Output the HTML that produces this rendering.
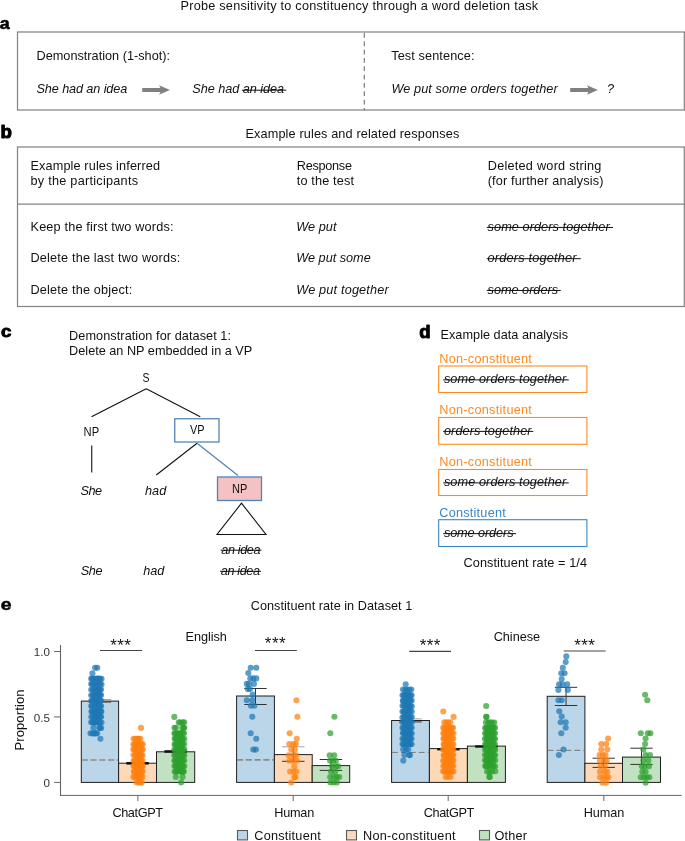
<!DOCTYPE html>
<html><head><meta charset="utf-8"><title>Probe sensitivity to constituency</title>
<style>
html,body{margin:0;padding:0;background:#fff;overflow:hidden;}
svg{display:block;font-family:"Liberation Sans",sans-serif;}
</style></head>
<body>
<svg width="685" height="841" viewBox="0 0 685 841">
<rect width="685" height="841" fill="#fff"/>
<text x="180.50" y="9.95" font-size="12.7" fill="#111" textLength="357.60" lengthAdjust="spacing">Probe sensitivity to constituency through a word deletion task</text>
<text transform="translate(-0.2 28.6) scale(1.05 1)" font-size="17.0" font-weight="bold" fill="#000" stroke="#000" stroke-width="0.6" stroke-linejoin="round">a</text>
<rect x="17.50" y="32.00" width="666.80" height="78.00" fill="none" stroke="#858585" stroke-width="1.25"/>
<line x1="364.30" y1="33.00" x2="364.30" y2="110.00" stroke="#7c7c7c" stroke-width="1.2" stroke-dasharray="4.8 3.53"/>
<text x="36.50" y="59.85" font-size="12.7" fill="#111" textLength="133.50" lengthAdjust="spacing">Demonstration (1-shot):</text>
<text x="36.50" y="93.45" font-size="12.7" font-style="italic" fill="#111" textLength="90.80" lengthAdjust="spacing">She had an idea</text>
<path d="M142.20 88.05 L160.50 88.05 L159.00 85.20 L170.00 90.00 L159.00 94.80 L160.50 91.95 L142.20 91.95 Z" fill="#808080"/>
<text x="192.25" y="93.45" font-size="12.7" font-style="italic" fill="#111" textLength="91.75" lengthAdjust="spacing">She had an idea</text>
<line x1="242.00" y1="90.20" x2="286.30" y2="90.20" stroke="#111" stroke-width="1"/>
<text x="391.20" y="59.95" font-size="12.7" fill="#111" textLength="83.30" lengthAdjust="spacing">Test sentence:</text>
<text x="391.50" y="93.45" font-size="12.7" font-style="italic" fill="#111" textLength="166.20" lengthAdjust="spacing">We put some orders together</text>
<path d="M570.20 88.05 L588.40 88.05 L586.90 85.20 L597.90 90.00 L586.90 94.80 L588.40 91.95 L570.20 91.95 Z" fill="#808080"/>
<text x="607.00" y="93.45" font-size="12.7" font-style="italic" fill="#111">?</text>
<text transform="translate(0.5 137.6) scale(1.07 1)" font-size="17.5" font-weight="bold" fill="#000" stroke="#000" stroke-width="0.95" stroke-linejoin="round">b</text>
<text x="245.50" y="137.95" font-size="12.7" fill="#111" textLength="213.75" lengthAdjust="spacing">Example rules and related responses</text>
<rect x="17.50" y="147.00" width="666.80" height="159.50" fill="none" stroke="#858585" stroke-width="1.25"/>
<line x1="17.50" y1="204.00" x2="684.30" y2="204.00" stroke="#858585" stroke-width="1.25"/>
<text x="30.50" y="169.70" font-size="12.7" fill="#111" textLength="129.50" lengthAdjust="spacing">Example rules inferred</text>
<text x="30.50" y="185.25" font-size="12.7" fill="#111" textLength="107.50" lengthAdjust="spacing">by the participants</text>
<text x="296.75" y="169.70" font-size="12.7" fill="#111" textLength="55.25" lengthAdjust="spacing">Response</text>
<text x="296.75" y="185.25" font-size="12.7" fill="#111" textLength="57.25" lengthAdjust="spacing">to the test</text>
<text x="487.75" y="169.70" font-size="12.7" fill="#111" textLength="113.65" lengthAdjust="spacing">Deleted word string</text>
<text x="487.75" y="185.25" font-size="12.7" fill="#111" textLength="115.65" lengthAdjust="spacing">(for further analysis)</text>
<text x="30.50" y="230.70" font-size="12.7" fill="#111" textLength="143.00" lengthAdjust="spacing">Keep the first two words:</text>
<text x="30.50" y="261.95" font-size="12.7" fill="#111" textLength="149.80" lengthAdjust="spacing">Delete the last two words:</text>
<text x="30.50" y="293.70" font-size="12.7" fill="#111" textLength="101.80" lengthAdjust="spacing">Delete the object:</text>
<text x="296.25" y="230.70" font-size="12.7" font-style="italic" fill="#111" textLength="40.25" lengthAdjust="spacing">We put</text>
<text x="296.25" y="261.95" font-size="12.7" font-style="italic" fill="#111" textLength="74.50" lengthAdjust="spacing">We put some</text>
<text x="296.25" y="293.70" font-size="12.7" font-style="italic" fill="#111" textLength="92.50" lengthAdjust="spacing">We put together</text>
<text x="487.60" y="230.70" font-size="12.7" font-style="italic" fill="#111" textLength="122.10" lengthAdjust="spacing">some orders together</text>
<line x1="486.75" y1="227.45" x2="613.00" y2="227.45" stroke="#111" stroke-width="1"/>
<text x="487.60" y="261.95" font-size="12.7" font-style="italic" fill="#111" textLength="88.90" lengthAdjust="spacing">orders together</text>
<line x1="486.75" y1="258.70" x2="580.75" y2="258.70" stroke="#111" stroke-width="1"/>
<text x="487.60" y="293.70" font-size="12.7" font-style="italic" fill="#111" textLength="70.40" lengthAdjust="spacing">some orders</text>
<line x1="486.75" y1="290.45" x2="560.75" y2="290.45" stroke="#111" stroke-width="1"/>
<text transform="translate(0.9 337.3) scale(1.1 1)" font-size="17" font-weight="bold" fill="#000" stroke="#000" stroke-width="0.95" stroke-linejoin="round">c</text>
<text x="69.10" y="339.65" font-size="12.7" fill="#111" textLength="161.90" lengthAdjust="spacing">Demonstration for dataset 1:</text>
<text x="69.10" y="354.65" font-size="12.7" fill="#111" textLength="183.15" lengthAdjust="spacing">Delete an NP embedded in a VP</text>
<text x="142.60" y="381.75" font-size="12.7" fill="#111" textLength="7.00" lengthAdjust="spacingAndGlyphs">S</text>
<line x1="146.25" y1="388.75" x2="91.50" y2="416.75" stroke="#111" stroke-width="1.1"/>
<line x1="146.25" y1="388.75" x2="200.25" y2="416.75" stroke="#111" stroke-width="1.1"/>
<text x="83.60" y="436.00" font-size="12.7" fill="#111" textLength="15.60" lengthAdjust="spacingAndGlyphs">NP</text>
<line x1="91.75" y1="445.50" x2="91.75" y2="472.50" stroke="#111" stroke-width="1.1"/>
<rect x="174.75" y="418.75" width="44.25" height="23.25" fill="#fff" stroke="#5585b5" stroke-width="1.3"/>
<text x="189.90" y="434.00" font-size="12.7" fill="#111" textLength="14.60" lengthAdjust="spacingAndGlyphs">VP</text>
<line x1="197.00" y1="443.30" x2="156.25" y2="475.00" stroke="#111" stroke-width="1.1"/>
<line x1="197.00" y1="443.30" x2="238.00" y2="475.50" stroke="#5585b5" stroke-width="1.3"/>
<rect x="217.50" y="477.00" width="44.00" height="23.50" fill="#f4c1c4" stroke="#5585b5" stroke-width="1.3"/>
<text x="232.00" y="492.50" font-size="12.7" fill="#111" textLength="15.30" lengthAdjust="spacingAndGlyphs">NP</text>
<path d="M241.5 503.2 L217 534.5 L266 534.5 Z" fill="none" stroke="#111" stroke-width="1.1"/>
<text x="80.50" y="494.95" font-size="12.7" font-style="italic" fill="#111" textLength="21.50" lengthAdjust="spacing">She</text>
<text x="145.00" y="494.95" font-size="12.7" font-style="italic" fill="#111" textLength="21.25" lengthAdjust="spacing">had</text>
<text x="221.30" y="553.70" font-size="12.7" font-style="italic" fill="#111" textLength="39.20" lengthAdjust="spacing">an idea</text>
<line x1="220.75" y1="550.20" x2="261.50" y2="550.20" stroke="#111" stroke-width="1"/>
<text x="80.75" y="574.70" font-size="12.7" font-style="italic" fill="#111" textLength="21.75" lengthAdjust="spacing">She</text>
<text x="143.25" y="574.70" font-size="12.7" font-style="italic" fill="#111" textLength="21.00" lengthAdjust="spacing">had</text>
<text x="220.80" y="574.70" font-size="12.7" font-style="italic" fill="#111" textLength="39.20" lengthAdjust="spacing">an idea</text>
<line x1="220.00" y1="571.30" x2="261.00" y2="571.30" stroke="#111" stroke-width="1"/>
<text transform="translate(419.3 337.75) scale(1.06 1)" font-size="17.5" font-weight="bold" fill="#000" stroke="#000" stroke-width="0.95" stroke-linejoin="round">d</text>
<text x="440.50" y="339.20" font-size="12.7" fill="#111" textLength="127.50" lengthAdjust="spacing">Example data analysis</text>
<text x="439.25" y="362.95" font-size="12.7" fill="#ff8a1f" textLength="92.65" lengthAdjust="spacing">Non-constituent</text>
<rect x="438.70" y="366.00" width="148.20" height="26.50" fill="#fff" stroke="#ff8a1f" stroke-width="1.1"/>
<text x="443.90" y="383.35" font-size="12.7" font-style="italic" fill="#111" textLength="122.35" lengthAdjust="spacing">some orders together</text>
<line x1="443.20" y1="379.90" x2="568.75" y2="379.90" stroke="#111" stroke-width="1"/>
<text x="439.25" y="414.20" font-size="12.7" fill="#ff8a1f" textLength="92.65" lengthAdjust="spacing">Non-constituent</text>
<rect x="438.70" y="417.50" width="148.20" height="26.75" fill="#fff" stroke="#ff8a1f" stroke-width="1.1"/>
<text x="443.90" y="434.85" font-size="12.7" font-style="italic" fill="#111" textLength="87.70" lengthAdjust="spacing">orders together</text>
<line x1="443.20" y1="431.40" x2="533.30" y2="431.40" stroke="#111" stroke-width="1"/>
<text x="439.25" y="465.70" font-size="12.7" fill="#ff8a1f" textLength="92.65" lengthAdjust="spacing">Non-constituent</text>
<rect x="438.70" y="469.50" width="148.20" height="26.00" fill="#fff" stroke="#ff8a1f" stroke-width="1.1"/>
<text x="443.90" y="486.35" font-size="12.7" font-style="italic" fill="#111" textLength="122.35" lengthAdjust="spacing">some orders together</text>
<line x1="443.20" y1="482.90" x2="568.75" y2="482.90" stroke="#111" stroke-width="1"/>
<text x="439.25" y="516.95" font-size="12.7" fill="#3a87c8" textLength="66.50" lengthAdjust="spacing">Constituent</text>
<rect x="438.70" y="519.70" width="148.20" height="26.80" fill="#fff" stroke="#3a87c8" stroke-width="1.1"/>
<text x="443.90" y="537.10" font-size="12.7" font-style="italic" fill="#111" textLength="69.60" lengthAdjust="spacing">some orders</text>
<line x1="443.20" y1="533.65" x2="516.00" y2="533.65" stroke="#111" stroke-width="1"/>
<text x="463.50" y="566.70" font-size="12.7" fill="#111" textLength="123.50" lengthAdjust="spacing">Constituent rate = 1/4</text>
<text transform="translate(0.8 609.75) scale(1.18 1)" font-size="16.5" font-weight="bold" fill="#000" stroke="#000" stroke-width="0.5" stroke-linejoin="round">e</text>
<text x="250.75" y="609.95" font-size="12.7" fill="#111" textLength="161.50" lengthAdjust="spacing">Constituent rate in Dataset 1</text>
<text x="185.50" y="640.70" font-size="12.7" fill="#111" textLength="41.25" lengthAdjust="spacing">English</text>
<text x="493.75" y="640.70" font-size="12.7" fill="#111" textLength="46.25" lengthAdjust="spacing">Chinese</text>
<rect x="81.30" y="701.10" width="37.30" height="81.30" fill="#bcd6e9" stroke="#1f1f1f" stroke-width="1"/>
<rect x="118.60" y="763.20" width="37.90" height="19.20" fill="#fdd9b7" stroke="#1f1f1f" stroke-width="1"/>
<rect x="156.50" y="751.80" width="38.20" height="30.60" fill="#c0e2c0" stroke="#1f1f1f" stroke-width="1"/>
<line x1="81.70" y1="760.00" x2="118.00" y2="760.00" stroke="#8c8c8c" stroke-width="1.7" stroke-dasharray="6.2 2.55"/>
<line x1="88.75" y1="699.50" x2="111.15" y2="699.50" stroke="#a5a5a5" stroke-width="1.0"/>
<line x1="88.75" y1="702.00" x2="111.15" y2="702.00" stroke="#333" stroke-width="1.0"/>
<line x1="99.95" y1="699.50" x2="99.95" y2="702.00" stroke="#333" stroke-width="1.0"/>
<rect x="126.35" y="762.00" width="22.40" height="2.60" fill="#111"/>
<rect x="164.40" y="750.20" width="22.40" height="2.60" fill="#111"/>
<g fill="#1f77b4" fill-opacity="0.72">
<circle cx="92.3" cy="711.5" r="3.05"/><circle cx="97.7" cy="711.7" r="3.05"/><circle cx="91.2" cy="684.1" r="3.05"/><circle cx="99.0" cy="678.5" r="3.05"/><circle cx="101.1" cy="689.5" r="3.05"/><circle cx="94.6" cy="722.4" r="3.05"/><circle cx="98.7" cy="695.1" r="3.05"/><circle cx="98.7" cy="684.1" r="3.05"/><circle cx="90.5" cy="733.2" r="3.05"/><circle cx="95.4" cy="711.6" r="3.05"/><circle cx="91.3" cy="700.8" r="3.05"/><circle cx="100.2" cy="706.1" r="3.05"/><circle cx="93.8" cy="722.3" r="3.05"/><circle cx="93.6" cy="678.7" r="3.05"/><circle cx="91.2" cy="678.8" r="3.05"/><circle cx="93.7" cy="711.4" r="3.05"/><circle cx="97.3" cy="717.0" r="3.05"/><circle cx="93.3" cy="684.1" r="3.05"/><circle cx="96.5" cy="706.1" r="3.05"/><circle cx="95.9" cy="722.4" r="3.05"/><circle cx="97.7" cy="706.0" r="3.05"/><circle cx="101.1" cy="716.8" r="3.05"/><circle cx="96.7" cy="689.8" r="3.05"/><circle cx="93.8" cy="689.7" r="3.05"/><circle cx="91.4" cy="711.5" r="3.05"/><circle cx="100.4" cy="738.8" r="3.05"/><circle cx="99.8" cy="722.3" r="3.05"/><circle cx="100.3" cy="716.7" r="3.05"/><circle cx="100.2" cy="679.0" r="3.05"/><circle cx="100.3" cy="695.0" r="3.05"/><circle cx="92.3" cy="684.0" r="3.05"/><circle cx="94.9" cy="695.3" r="3.05"/><circle cx="101.2" cy="728.0" r="3.05"/><circle cx="94.7" cy="716.8" r="3.05"/><circle cx="91.2" cy="706.0" r="3.05"/><circle cx="96.0" cy="700.4" r="3.05"/><circle cx="92.4" cy="673.3" r="3.05"/><circle cx="98.8" cy="722.6" r="3.05"/><circle cx="95.9" cy="679.0" r="3.05"/><circle cx="91.2" cy="689.7" r="3.05"/><circle cx="95.9" cy="684.4" r="3.05"/><circle cx="91.2" cy="695.3" r="3.05"/><circle cx="101.1" cy="706.1" r="3.05"/><circle cx="101.5" cy="684.5" r="3.05"/><circle cx="97.8" cy="684.0" r="3.05"/><circle cx="94.7" cy="684.2" r="3.05"/><circle cx="95.4" cy="705.9" r="3.05"/><circle cx="93.7" cy="700.7" r="3.05"/><circle cx="94.6" cy="700.6" r="3.05"/><circle cx="101.0" cy="695.1" r="3.05"/><circle cx="97.2" cy="700.7" r="3.05"/><circle cx="100.1" cy="728.0" r="3.05"/><circle cx="92.8" cy="700.5" r="3.05"/><circle cx="91.3" cy="716.9" r="3.05"/><circle cx="92.6" cy="722.2" r="3.05"/><circle cx="101.5" cy="722.6" r="3.05"/><circle cx="93.4" cy="727.9" r="3.05"/><circle cx="92.1" cy="678.6" r="3.05"/><circle cx="94.2" cy="733.4" r="3.05"/><circle cx="97.2" cy="722.2" r="3.05"/><circle cx="99.2" cy="727.8" r="3.05"/><circle cx="93.6" cy="695.1" r="3.05"/><circle cx="100.1" cy="684.0" r="3.05"/><circle cx="98.0" cy="689.8" r="3.05"/><circle cx="97.3" cy="695.0" r="3.05"/><circle cx="94.1" cy="716.8" r="3.05"/><circle cx="98.6" cy="700.5" r="3.05"/><circle cx="92.9" cy="689.8" r="3.05"/><circle cx="96.1" cy="711.5" r="3.05"/><circle cx="95.4" cy="678.6" r="3.05"/><circle cx="101.5" cy="678.9" r="3.05"/><circle cx="96.8" cy="695.0" r="3.05"/><circle cx="99.1" cy="716.9" r="3.05"/><circle cx="92.5" cy="733.5" r="3.05"/><circle cx="95.9" cy="733.4" r="3.05"/><circle cx="97.3" cy="667.8" r="3.05"/><circle cx="91.2" cy="722.2" r="3.05"/><circle cx="99.8" cy="689.7" r="3.05"/><circle cx="101.4" cy="711.6" r="3.05"/><circle cx="100.1" cy="700.8" r="3.05"/><circle cx="100.7" cy="711.3" r="3.05"/><circle cx="98.8" cy="689.6" r="3.05"/><circle cx="94.0" cy="706.1" r="3.05"/><circle cx="96.2" cy="717.1" r="3.05"/><circle cx="92.0" cy="706.1" r="3.05"/><circle cx="93.0" cy="716.7" r="3.05"/><circle cx="92.8" cy="695.3" r="3.05"/><circle cx="95.1" cy="667.7" r="3.05"/><circle cx="95.2" cy="689.5" r="3.05"/><circle cx="101.1" cy="700.6" r="3.05"/><circle cx="97.7" cy="678.6" r="3.05"/><circle cx="97.2" cy="733.3" r="3.05"/><circle cx="99.2" cy="711.4" r="3.05"/><circle cx="99.3" cy="706.3" r="3.05"/>
</g>
<g fill="#ff7f0e" fill-opacity="0.72">
<circle cx="136.9" cy="777.1" r="3.05"/><circle cx="142.4" cy="776.9" r="3.05"/><circle cx="138.5" cy="755.1" r="3.05"/><circle cx="138.4" cy="744.5" r="3.05"/><circle cx="136.4" cy="782.3" r="3.05"/><circle cx="135.9" cy="749.5" r="3.05"/><circle cx="138.7" cy="738.7" r="3.05"/><circle cx="140.0" cy="776.9" r="3.05"/><circle cx="142.8" cy="765.9" r="3.05"/><circle cx="139.7" cy="771.7" r="3.05"/><circle cx="137.6" cy="749.9" r="3.05"/><circle cx="141.4" cy="755.3" r="3.05"/><circle cx="134.2" cy="749.6" r="3.05"/><circle cx="141.0" cy="727.9" r="3.05"/><circle cx="142.5" cy="755.3" r="3.05"/><circle cx="140.4" cy="738.9" r="3.05"/><circle cx="140.5" cy="744.5" r="3.05"/><circle cx="133.6" cy="760.8" r="3.05"/><circle cx="138.5" cy="776.7" r="3.05"/><circle cx="140.2" cy="760.8" r="3.05"/><circle cx="142.7" cy="744.3" r="3.05"/><circle cx="139.2" cy="749.9" r="3.05"/><circle cx="140.0" cy="782.2" r="3.05"/><circle cx="141.8" cy="749.9" r="3.05"/><circle cx="142.0" cy="765.9" r="3.05"/><circle cx="137.3" cy="738.7" r="3.05"/><circle cx="142.8" cy="749.6" r="3.05"/><circle cx="139.3" cy="755.1" r="3.05"/><circle cx="134.2" cy="776.7" r="3.05"/><circle cx="133.6" cy="766.0" r="3.05"/><circle cx="136.0" cy="755.3" r="3.05"/><circle cx="133.9" cy="771.5" r="3.05"/><circle cx="141.2" cy="760.8" r="3.05"/><circle cx="135.5" cy="744.2" r="3.05"/><circle cx="140.4" cy="755.0" r="3.05"/><circle cx="133.4" cy="749.4" r="3.05"/><circle cx="137.3" cy="755.2" r="3.05"/><circle cx="140.6" cy="749.4" r="3.05"/><circle cx="136.9" cy="771.4" r="3.05"/><circle cx="139.2" cy="760.6" r="3.05"/><circle cx="138.8" cy="744.0" r="3.05"/><circle cx="136.8" cy="760.5" r="3.05"/><circle cx="133.6" cy="738.8" r="3.05"/><circle cx="140.7" cy="765.8" r="3.05"/><circle cx="133.4" cy="744.4" r="3.05"/><circle cx="137.1" cy="744.1" r="3.05"/><circle cx="141.6" cy="744.1" r="3.05"/><circle cx="138.0" cy="765.9" r="3.05"/><circle cx="138.1" cy="771.7" r="3.05"/><circle cx="134.3" cy="765.9" r="3.05"/><circle cx="135.9" cy="777.0" r="3.05"/><circle cx="140.8" cy="771.3" r="3.05"/><circle cx="141.7" cy="782.6" r="3.05"/><circle cx="142.5" cy="760.8" r="3.05"/><circle cx="137.4" cy="766.1" r="3.05"/><circle cx="138.9" cy="766.0" r="3.05"/><circle cx="141.6" cy="771.4" r="3.05"/><circle cx="133.4" cy="777.0" r="3.05"/><circle cx="134.5" cy="760.5" r="3.05"/><circle cx="142.7" cy="771.4" r="3.05"/><circle cx="138.4" cy="782.6" r="3.05"/><circle cx="135.8" cy="771.6" r="3.05"/><circle cx="135.6" cy="760.4" r="3.05"/><circle cx="139.0" cy="776.7" r="3.05"/><circle cx="135.0" cy="755.0" r="3.05"/><circle cx="138.1" cy="760.7" r="3.05"/><circle cx="133.4" cy="755.0" r="3.05"/><circle cx="135.3" cy="738.9" r="3.05"/><circle cx="136.7" cy="749.5" r="3.05"/><circle cx="134.3" cy="771.4" r="3.05"/><circle cx="141.2" cy="777.1" r="3.05"/><circle cx="135.4" cy="766.2" r="3.05"/><circle cx="134.7" cy="744.2" r="3.05"/>
</g>
<g fill="#2ca02c" fill-opacity="0.72">
<circle cx="182.9" cy="733.1" r="3.05"/><circle cx="183.6" cy="728.0" r="3.05"/><circle cx="184.3" cy="749.4" r="3.05"/><circle cx="176.0" cy="727.8" r="3.05"/><circle cx="175.1" cy="760.4" r="3.05"/><circle cx="177.9" cy="760.6" r="3.05"/><circle cx="175.6" cy="766.1" r="3.05"/><circle cx="180.6" cy="744.2" r="3.05"/><circle cx="177.0" cy="749.5" r="3.05"/><circle cx="177.8" cy="765.8" r="3.05"/><circle cx="182.0" cy="760.7" r="3.05"/><circle cx="184.3" cy="744.1" r="3.05"/><circle cx="184.3" cy="766.2" r="3.05"/><circle cx="184.3" cy="727.8" r="3.05"/><circle cx="182.5" cy="776.9" r="3.05"/><circle cx="177.0" cy="744.4" r="3.05"/><circle cx="181.6" cy="733.3" r="3.05"/><circle cx="182.6" cy="738.9" r="3.05"/><circle cx="177.6" cy="771.3" r="3.05"/><circle cx="179.1" cy="766.2" r="3.05"/><circle cx="180.3" cy="760.7" r="3.05"/><circle cx="182.8" cy="722.4" r="3.05"/><circle cx="180.3" cy="755.0" r="3.05"/><circle cx="176.5" cy="738.7" r="3.05"/><circle cx="184.3" cy="738.9" r="3.05"/><circle cx="182.3" cy="727.9" r="3.05"/><circle cx="178.8" cy="760.4" r="3.05"/><circle cx="176.6" cy="760.7" r="3.05"/><circle cx="181.0" cy="739.0" r="3.05"/><circle cx="174.3" cy="749.8" r="3.05"/><circle cx="174.4" cy="760.7" r="3.05"/><circle cx="180.5" cy="749.7" r="3.05"/><circle cx="179.6" cy="738.8" r="3.05"/><circle cx="178.8" cy="722.4" r="3.05"/><circle cx="176.4" cy="733.3" r="3.05"/><circle cx="180.9" cy="771.5" r="3.05"/><circle cx="181.8" cy="738.9" r="3.05"/><circle cx="181.6" cy="749.5" r="3.05"/><circle cx="184.2" cy="722.3" r="3.05"/><circle cx="178.8" cy="749.4" r="3.05"/><circle cx="174.5" cy="766.0" r="3.05"/><circle cx="180.3" cy="766.2" r="3.05"/><circle cx="181.9" cy="771.6" r="3.05"/><circle cx="182.3" cy="766.0" r="3.05"/><circle cx="175.2" cy="755.4" r="3.05"/><circle cx="177.2" cy="754.9" r="3.05"/><circle cx="182.2" cy="755.0" r="3.05"/><circle cx="182.8" cy="760.6" r="3.05"/><circle cx="179.2" cy="771.3" r="3.05"/><circle cx="174.6" cy="771.5" r="3.05"/><circle cx="180.3" cy="733.4" r="3.05"/><circle cx="175.6" cy="749.9" r="3.05"/><circle cx="178.0" cy="755.3" r="3.05"/><circle cx="177.9" cy="733.2" r="3.05"/><circle cx="175.8" cy="776.9" r="3.05"/><circle cx="174.6" cy="744.4" r="3.05"/><circle cx="184.0" cy="733.2" r="3.05"/><circle cx="177.0" cy="771.4" r="3.05"/><circle cx="183.8" cy="771.6" r="3.05"/><circle cx="175.9" cy="771.6" r="3.05"/><circle cx="174.4" cy="727.8" r="3.05"/><circle cx="182.6" cy="744.0" r="3.05"/><circle cx="174.7" cy="738.6" r="3.05"/><circle cx="178.4" cy="749.7" r="3.05"/><circle cx="175.3" cy="738.8" r="3.05"/><circle cx="178.5" cy="739.0" r="3.05"/><circle cx="181.7" cy="744.1" r="3.05"/><circle cx="179.2" cy="744.5" r="3.05"/><circle cx="179.8" cy="755.1" r="3.05"/><circle cx="174.3" cy="716.9" r="3.05"/><circle cx="176.4" cy="766.2" r="3.05"/><circle cx="174.3" cy="755.3" r="3.05"/><circle cx="181.1" cy="782.4" r="3.05"/><circle cx="175.1" cy="733.5" r="3.05"/><circle cx="182.9" cy="766.0" r="3.05"/><circle cx="175.2" cy="744.4" r="3.05"/><circle cx="180.4" cy="722.6" r="3.05"/><circle cx="184.3" cy="755.4" r="3.05"/><circle cx="174.4" cy="733.2" r="3.05"/><circle cx="183.2" cy="771.5" r="3.05"/><circle cx="182.9" cy="749.6" r="3.05"/><circle cx="183.1" cy="755.0" r="3.05"/><circle cx="177.8" cy="744.2" r="3.05"/><circle cx="184.3" cy="760.6" r="3.05"/><circle cx="179.5" cy="733.6" r="3.05"/>
</g>
<rect x="236.60" y="696.00" width="37.80" height="86.40" fill="#bcd6e9" stroke="#1f1f1f" stroke-width="1"/>
<rect x="274.40" y="754.60" width="37.80" height="27.80" fill="#fdd9b7" stroke="#1f1f1f" stroke-width="1"/>
<rect x="312.20" y="765.60" width="37.50" height="16.80" fill="#c0e2c0" stroke="#1f1f1f" stroke-width="1"/>
<line x1="237.00" y1="759.90" x2="273.80" y2="759.90" stroke="#8c8c8c" stroke-width="1.7" stroke-dasharray="6.2 2.55"/>
<line x1="244.30" y1="688.50" x2="266.70" y2="688.50" stroke="#333" stroke-width="1.0"/>
<line x1="244.30" y1="704.50" x2="266.70" y2="704.50" stroke="#333" stroke-width="1.0"/>
<line x1="255.50" y1="688.50" x2="255.50" y2="704.50" stroke="#333" stroke-width="1.0"/>
<line x1="282.10" y1="746.80" x2="304.50" y2="746.80" stroke="#a5a5a5" stroke-width="1.0"/>
<line x1="282.10" y1="761.30" x2="304.50" y2="761.30" stroke="#333" stroke-width="1.0"/>
<line x1="293.30" y1="746.80" x2="293.30" y2="761.30" stroke="#333" stroke-width="1.0"/>
<line x1="319.75" y1="759.50" x2="342.15" y2="759.50" stroke="#333" stroke-width="1.0"/>
<line x1="319.75" y1="770.40" x2="342.15" y2="770.40" stroke="#333" stroke-width="1.0"/>
<line x1="330.95" y1="759.50" x2="330.95" y2="770.40" stroke="#333" stroke-width="1.0"/>
<g fill="#1f77b4" fill-opacity="0.72">
<circle cx="250.7" cy="667.7" r="3.05"/><circle cx="256.3" cy="667.7" r="3.05"/><circle cx="248.3" cy="673.0" r="3.05"/><circle cx="250.3" cy="678.4" r="3.05"/><circle cx="253.3" cy="678.4" r="3.05"/><circle cx="256.3" cy="678.4" r="3.05"/><circle cx="246.8" cy="683.9" r="3.05"/><circle cx="248.9" cy="683.9" r="3.05"/><circle cx="253.9" cy="683.9" r="3.05"/><circle cx="247.8" cy="689.1" r="3.05"/><circle cx="249.9" cy="689.1" r="3.05"/><circle cx="252.7" cy="694.6" r="3.05"/><circle cx="246.8" cy="700.3" r="3.05"/><circle cx="252.3" cy="700.3" r="3.05"/><circle cx="250.9" cy="705.7" r="3.05"/><circle cx="254.3" cy="705.7" r="3.05"/><circle cx="252.3" cy="716.8" r="3.05"/><circle cx="250.7" cy="733.2" r="3.05"/><circle cx="256.3" cy="738.7" r="3.05"/><circle cx="253.3" cy="749.6" r="3.05"/><circle cx="255.9" cy="749.6" r="3.05"/>
</g>
<g fill="#ff7f0e" fill-opacity="0.72">
<circle cx="296.4" cy="700.3" r="3.05"/><circle cx="297.4" cy="716.8" r="3.05"/><circle cx="289.7" cy="733.2" r="3.05"/><circle cx="296.8" cy="738.7" r="3.05"/><circle cx="289.3" cy="744.1" r="3.05"/><circle cx="293.3" cy="744.1" r="3.05"/><circle cx="295.8" cy="744.1" r="3.05"/><circle cx="291.3" cy="749.6" r="3.05"/><circle cx="294.8" cy="749.6" r="3.05"/><circle cx="288.7" cy="755.2" r="3.05"/><circle cx="293.7" cy="755.2" r="3.05"/><circle cx="296.2" cy="755.2" r="3.05"/><circle cx="289.3" cy="760.7" r="3.05"/><circle cx="292.7" cy="760.7" r="3.05"/><circle cx="296.8" cy="760.7" r="3.05"/><circle cx="294.3" cy="766.2" r="3.05"/><circle cx="290.1" cy="771.6" r="3.05"/><circle cx="293.7" cy="771.6" r="3.05"/><circle cx="296.4" cy="771.6" r="3.05"/><circle cx="295.4" cy="777.1" r="3.05"/><circle cx="291.3" cy="782.5" r="3.05"/><circle cx="294.3" cy="777.1" r="3.05"/>
</g>
<g fill="#2ca02c" fill-opacity="0.72">
<circle cx="334.4" cy="716.8" r="3.05"/><circle cx="330.3" cy="733.2" r="3.05"/><circle cx="329.7" cy="755.2" r="3.05"/><circle cx="334.2" cy="755.2" r="3.05"/><circle cx="330.1" cy="760.7" r="3.05"/><circle cx="333.2" cy="760.7" r="3.05"/><circle cx="335.8" cy="760.7" r="3.05"/><circle cx="332.2" cy="766.2" r="3.05"/><circle cx="335.8" cy="766.2" r="3.05"/><circle cx="338.2" cy="766.2" r="3.05"/><circle cx="331.1" cy="771.6" r="3.05"/><circle cx="335.2" cy="771.6" r="3.05"/><circle cx="330.1" cy="777.1" r="3.05"/><circle cx="333.8" cy="777.1" r="3.05"/><circle cx="336.6" cy="777.1" r="3.05"/><circle cx="339.2" cy="777.1" r="3.05"/><circle cx="330.5" cy="782.5" r="3.05"/><circle cx="333.8" cy="782.5" r="3.05"/><circle cx="336.8" cy="782.5" r="3.05"/>
</g>
<rect x="391.60" y="720.50" width="37.80" height="61.90" fill="#bcd6e9" stroke="#1f1f1f" stroke-width="1"/>
<rect x="429.40" y="748.60" width="38.00" height="33.80" fill="#fdd9b7" stroke="#1f1f1f" stroke-width="1"/>
<rect x="467.40" y="746.10" width="38.00" height="36.30" fill="#c0e2c0" stroke="#1f1f1f" stroke-width="1"/>
<line x1="392.10" y1="752.40" x2="428.80" y2="752.40" stroke="#7a7774" stroke-width="1.0" stroke-dasharray="5.8 3.1"/>
<line x1="399.30" y1="718.90" x2="421.70" y2="718.90" stroke="#a5a5a5" stroke-width="1.0"/>
<line x1="399.30" y1="721.90" x2="421.70" y2="721.90" stroke="#333" stroke-width="1.0"/>
<line x1="410.50" y1="718.90" x2="410.50" y2="721.90" stroke="#333" stroke-width="1.0"/>
<rect x="437.20" y="748.00" width="22.40" height="2.40" fill="#111"/>
<rect x="475.20" y="745.30" width="22.40" height="2.40" fill="#111"/>
<g fill="#1f77b4" fill-opacity="0.72">
<circle cx="410.2" cy="738.6" r="3.05"/><circle cx="404.4" cy="755.1" r="3.05"/><circle cx="408.2" cy="749.5" r="3.05"/><circle cx="406.4" cy="705.9" r="3.05"/><circle cx="408.5" cy="738.7" r="3.05"/><circle cx="408.0" cy="700.4" r="3.05"/><circle cx="409.1" cy="727.8" r="3.05"/><circle cx="403.6" cy="711.7" r="3.05"/><circle cx="411.7" cy="711.4" r="3.05"/><circle cx="411.7" cy="700.6" r="3.05"/><circle cx="409.0" cy="722.6" r="3.05"/><circle cx="404.7" cy="722.6" r="3.05"/><circle cx="403.5" cy="727.8" r="3.05"/><circle cx="411.6" cy="738.8" r="3.05"/><circle cx="404.4" cy="695.1" r="3.05"/><circle cx="407.4" cy="722.5" r="3.05"/><circle cx="405.5" cy="727.7" r="3.05"/><circle cx="404.5" cy="711.6" r="3.05"/><circle cx="405.5" cy="733.1" r="3.05"/><circle cx="407.0" cy="728.1" r="3.05"/><circle cx="411.3" cy="689.5" r="3.05"/><circle cx="403.4" cy="744.5" r="3.05"/><circle cx="409.4" cy="689.6" r="3.05"/><circle cx="411.7" cy="722.3" r="3.05"/><circle cx="402.8" cy="700.7" r="3.05"/><circle cx="409.9" cy="733.5" r="3.05"/><circle cx="409.9" cy="738.8" r="3.05"/><circle cx="409.1" cy="695.4" r="3.05"/><circle cx="407.5" cy="694.9" r="3.05"/><circle cx="406.7" cy="705.8" r="3.05"/><circle cx="407.4" cy="717.2" r="3.05"/><circle cx="404.1" cy="722.3" r="3.05"/><circle cx="411.7" cy="706.2" r="3.05"/><circle cx="402.9" cy="733.1" r="3.05"/><circle cx="407.0" cy="733.5" r="3.05"/><circle cx="410.3" cy="722.5" r="3.05"/><circle cx="405.7" cy="716.7" r="3.05"/><circle cx="407.9" cy="728.1" r="3.05"/><circle cx="403.7" cy="706.0" r="3.05"/><circle cx="407.0" cy="689.7" r="3.05"/><circle cx="403.8" cy="695.4" r="3.05"/><circle cx="402.5" cy="711.5" r="3.05"/><circle cx="403.3" cy="760.6" r="3.05"/><circle cx="403.2" cy="749.6" r="3.05"/><circle cx="411.6" cy="727.6" r="3.05"/><circle cx="405.5" cy="744.2" r="3.05"/><circle cx="403.0" cy="689.6" r="3.05"/><circle cx="411.6" cy="695.3" r="3.05"/><circle cx="407.4" cy="711.5" r="3.05"/><circle cx="404.6" cy="727.7" r="3.05"/><circle cx="405.7" cy="684.2" r="3.05"/><circle cx="405.8" cy="700.7" r="3.05"/><circle cx="405.3" cy="706.2" r="3.05"/><circle cx="408.0" cy="744.3" r="3.05"/><circle cx="406.8" cy="700.5" r="3.05"/><circle cx="410.1" cy="744.1" r="3.05"/><circle cx="408.1" cy="711.4" r="3.05"/><circle cx="403.9" cy="738.8" r="3.05"/><circle cx="406.2" cy="711.7" r="3.05"/><circle cx="402.5" cy="727.9" r="3.05"/><circle cx="402.5" cy="744.1" r="3.05"/><circle cx="409.3" cy="711.6" r="3.05"/><circle cx="406.8" cy="738.6" r="3.05"/><circle cx="408.9" cy="716.8" r="3.05"/><circle cx="409.8" cy="700.6" r="3.05"/><circle cx="410.4" cy="733.2" r="3.05"/><circle cx="403.8" cy="716.8" r="3.05"/><circle cx="405.0" cy="744.1" r="3.05"/><circle cx="409.3" cy="705.9" r="3.05"/><circle cx="403.3" cy="700.8" r="3.05"/><circle cx="402.5" cy="717.2" r="3.05"/><circle cx="404.6" cy="700.6" r="3.05"/><circle cx="409.8" cy="744.1" r="3.05"/><circle cx="411.7" cy="716.9" r="3.05"/><circle cx="406.0" cy="749.7" r="3.05"/><circle cx="402.5" cy="722.3" r="3.05"/><circle cx="410.6" cy="695.3" r="3.05"/><circle cx="410.9" cy="728.0" r="3.05"/><circle cx="409.8" cy="755.1" r="3.05"/><circle cx="405.3" cy="733.1" r="3.05"/><circle cx="404.5" cy="739.0" r="3.05"/><circle cx="408.2" cy="706.1" r="3.05"/><circle cx="402.5" cy="695.3" r="3.05"/><circle cx="403.5" cy="733.2" r="3.05"/><circle cx="405.3" cy="689.9" r="3.05"/><circle cx="406.3" cy="695.3" r="3.05"/><circle cx="408.4" cy="717.2" r="3.05"/><circle cx="405.8" cy="738.9" r="3.05"/><circle cx="409.4" cy="755.1" r="3.05"/><circle cx="411.6" cy="744.3" r="3.05"/><circle cx="410.1" cy="711.3" r="3.05"/><circle cx="410.5" cy="706.1" r="3.05"/><circle cx="402.5" cy="705.8" r="3.05"/><circle cx="407.3" cy="744.2" r="3.05"/><circle cx="411.7" cy="733.4" r="3.05"/><circle cx="402.5" cy="738.9" r="3.05"/><circle cx="405.5" cy="722.4" r="3.05"/><circle cx="410.4" cy="700.5" r="3.05"/><circle cx="408.6" cy="733.4" r="3.05"/><circle cx="405.0" cy="716.9" r="3.05"/><circle cx="408.0" cy="694.9" r="3.05"/><circle cx="410.5" cy="717.2" r="3.05"/><circle cx="407.8" cy="722.2" r="3.05"/>
</g>
<g fill="#ff7f0e" fill-opacity="0.72">
<circle cx="449.6" cy="749.7" r="3.05"/><circle cx="452.1" cy="765.8" r="3.05"/><circle cx="451.9" cy="771.5" r="3.05"/><circle cx="448.1" cy="776.7" r="3.05"/><circle cx="450.4" cy="744.4" r="3.05"/><circle cx="448.6" cy="744.2" r="3.05"/><circle cx="445.4" cy="738.8" r="3.05"/><circle cx="449.3" cy="744.3" r="3.05"/><circle cx="451.9" cy="744.3" r="3.05"/><circle cx="448.3" cy="727.8" r="3.05"/><circle cx="453.3" cy="766.0" r="3.05"/><circle cx="448.7" cy="738.6" r="3.05"/><circle cx="453.4" cy="771.5" r="3.05"/><circle cx="446.0" cy="727.7" r="3.05"/><circle cx="444.3" cy="722.4" r="3.05"/><circle cx="453.4" cy="760.6" r="3.05"/><circle cx="443.2" cy="760.7" r="3.05"/><circle cx="450.3" cy="722.2" r="3.05"/><circle cx="449.3" cy="755.3" r="3.05"/><circle cx="443.4" cy="738.7" r="3.05"/><circle cx="447.4" cy="749.5" r="3.05"/><circle cx="448.0" cy="755.3" r="3.05"/><circle cx="449.2" cy="760.8" r="3.05"/><circle cx="452.2" cy="749.7" r="3.05"/><circle cx="445.7" cy="777.1" r="3.05"/><circle cx="453.2" cy="755.1" r="3.05"/><circle cx="445.9" cy="766.0" r="3.05"/><circle cx="449.2" cy="771.5" r="3.05"/><circle cx="453.3" cy="738.6" r="3.05"/><circle cx="443.7" cy="744.3" r="3.05"/><circle cx="447.1" cy="771.6" r="3.05"/><circle cx="447.1" cy="744.2" r="3.05"/><circle cx="446.1" cy="771.3" r="3.05"/><circle cx="443.4" cy="766.0" r="3.05"/><circle cx="453.6" cy="716.9" r="3.05"/><circle cx="453.0" cy="727.7" r="3.05"/><circle cx="452.4" cy="760.4" r="3.05"/><circle cx="450.6" cy="777.0" r="3.05"/><circle cx="444.1" cy="760.7" r="3.05"/><circle cx="443.2" cy="749.4" r="3.05"/><circle cx="449.3" cy="766.0" r="3.05"/><circle cx="451.1" cy="733.3" r="3.05"/><circle cx="443.2" cy="727.9" r="3.05"/><circle cx="443.2" cy="771.3" r="3.05"/><circle cx="447.9" cy="733.1" r="3.05"/><circle cx="444.4" cy="744.4" r="3.05"/><circle cx="443.3" cy="733.4" r="3.05"/><circle cx="447.4" cy="727.6" r="3.05"/><circle cx="451.1" cy="727.6" r="3.05"/><circle cx="453.4" cy="749.5" r="3.05"/><circle cx="448.6" cy="749.5" r="3.05"/><circle cx="444.4" cy="728.1" r="3.05"/><circle cx="452.2" cy="728.1" r="3.05"/><circle cx="446.2" cy="749.8" r="3.05"/><circle cx="445.7" cy="733.1" r="3.05"/><circle cx="451.3" cy="760.7" r="3.05"/><circle cx="450.4" cy="738.5" r="3.05"/><circle cx="446.0" cy="760.6" r="3.05"/><circle cx="452.0" cy="738.6" r="3.05"/><circle cx="449.7" cy="733.5" r="3.05"/><circle cx="446.8" cy="766.2" r="3.05"/><circle cx="445.5" cy="744.5" r="3.05"/><circle cx="453.4" cy="744.3" r="3.05"/><circle cx="446.9" cy="755.3" r="3.05"/><circle cx="453.4" cy="733.3" r="3.05"/><circle cx="446.6" cy="760.6" r="3.05"/><circle cx="444.2" cy="771.6" r="3.05"/><circle cx="444.2" cy="733.4" r="3.05"/><circle cx="443.3" cy="711.5" r="3.05"/><circle cx="443.7" cy="755.3" r="3.05"/><circle cx="444.2" cy="749.5" r="3.05"/><circle cx="449.3" cy="727.6" r="3.05"/><circle cx="447.5" cy="733.2" r="3.05"/><circle cx="444.0" cy="738.5" r="3.05"/><circle cx="451.9" cy="733.1" r="3.05"/><circle cx="452.5" cy="755.0" r="3.05"/><circle cx="450.9" cy="771.6" r="3.05"/><circle cx="446.4" cy="722.5" r="3.05"/><circle cx="450.7" cy="749.9" r="3.05"/><circle cx="450.5" cy="765.9" r="3.05"/><circle cx="447.8" cy="771.7" r="3.05"/><circle cx="446.2" cy="754.9" r="3.05"/><circle cx="450.5" cy="755.1" r="3.05"/><circle cx="448.6" cy="766.0" r="3.05"/><circle cx="444.1" cy="755.3" r="3.05"/><circle cx="448.2" cy="760.8" r="3.05"/><circle cx="447.0" cy="738.8" r="3.05"/><circle cx="448.1" cy="722.3" r="3.05"/><circle cx="444.4" cy="765.8" r="3.05"/><circle cx="449.3" cy="738.8" r="3.05"/>
</g>
<g fill="#2ca02c" fill-opacity="0.72">
<circle cx="491.0" cy="749.9" r="3.05"/><circle cx="486.0" cy="765.8" r="3.05"/><circle cx="484.9" cy="755.1" r="3.05"/><circle cx="486.1" cy="733.2" r="3.05"/><circle cx="484.9" cy="738.9" r="3.05"/><circle cx="491.5" cy="728.0" r="3.05"/><circle cx="488.6" cy="738.8" r="3.05"/><circle cx="486.0" cy="722.5" r="3.05"/><circle cx="487.3" cy="744.0" r="3.05"/><circle cx="495.1" cy="749.7" r="3.05"/><circle cx="489.7" cy="776.9" r="3.05"/><circle cx="495.1" cy="733.3" r="3.05"/><circle cx="495.0" cy="739.0" r="3.05"/><circle cx="492.2" cy="771.5" r="3.05"/><circle cx="491.0" cy="765.9" r="3.05"/><circle cx="489.7" cy="738.7" r="3.05"/><circle cx="489.1" cy="755.0" r="3.05"/><circle cx="485.0" cy="760.3" r="3.05"/><circle cx="495.1" cy="727.7" r="3.05"/><circle cx="494.2" cy="749.5" r="3.05"/><circle cx="487.7" cy="760.5" r="3.05"/><circle cx="489.5" cy="749.5" r="3.05"/><circle cx="493.6" cy="766.3" r="3.05"/><circle cx="489.6" cy="771.6" r="3.05"/><circle cx="487.6" cy="733.1" r="3.05"/><circle cx="486.0" cy="749.6" r="3.05"/><circle cx="485.1" cy="728.1" r="3.05"/><circle cx="492.6" cy="744.0" r="3.05"/><circle cx="486.5" cy="716.9" r="3.05"/><circle cx="488.3" cy="749.9" r="3.05"/><circle cx="485.2" cy="744.3" r="3.05"/><circle cx="492.8" cy="738.6" r="3.05"/><circle cx="495.1" cy="766.2" r="3.05"/><circle cx="486.1" cy="760.6" r="3.05"/><circle cx="489.7" cy="760.8" r="3.05"/><circle cx="487.3" cy="749.9" r="3.05"/><circle cx="493.8" cy="733.1" r="3.05"/><circle cx="491.2" cy="744.4" r="3.05"/><circle cx="492.6" cy="749.6" r="3.05"/><circle cx="485.2" cy="733.4" r="3.05"/><circle cx="486.5" cy="755.0" r="3.05"/><circle cx="490.9" cy="760.7" r="3.05"/><circle cx="492.8" cy="766.0" r="3.05"/><circle cx="488.4" cy="733.3" r="3.05"/><circle cx="486.3" cy="744.1" r="3.05"/><circle cx="490.1" cy="722.4" r="3.05"/><circle cx="494.3" cy="722.5" r="3.05"/><circle cx="495.3" cy="771.3" r="3.05"/><circle cx="491.6" cy="733.4" r="3.05"/><circle cx="486.1" cy="727.9" r="3.05"/><circle cx="493.8" cy="727.8" r="3.05"/><circle cx="489.9" cy="765.8" r="3.05"/><circle cx="485.2" cy="766.1" r="3.05"/><circle cx="490.4" cy="728.0" r="3.05"/><circle cx="486.2" cy="716.9" r="3.05"/><circle cx="492.5" cy="754.9" r="3.05"/><circle cx="495.1" cy="760.3" r="3.05"/><circle cx="493.5" cy="760.7" r="3.05"/><circle cx="488.4" cy="765.9" r="3.05"/><circle cx="490.2" cy="744.1" r="3.05"/><circle cx="490.4" cy="755.0" r="3.05"/><circle cx="489.1" cy="744.3" r="3.05"/><circle cx="486.5" cy="738.6" r="3.05"/><circle cx="492.2" cy="760.3" r="3.05"/><circle cx="491.0" cy="739.0" r="3.05"/><circle cx="491.0" cy="755.2" r="3.05"/><circle cx="492.3" cy="722.5" r="3.05"/><circle cx="487.1" cy="771.4" r="3.05"/><circle cx="494.3" cy="738.6" r="3.05"/><circle cx="493.8" cy="744.4" r="3.05"/><circle cx="486.2" cy="706.0" r="3.05"/><circle cx="487.1" cy="738.6" r="3.05"/><circle cx="487.0" cy="766.2" r="3.05"/><circle cx="487.7" cy="727.8" r="3.05"/><circle cx="492.6" cy="733.4" r="3.05"/><circle cx="495.1" cy="755.2" r="3.05"/><circle cx="489.4" cy="776.9" r="3.05"/><circle cx="489.5" cy="733.3" r="3.05"/><circle cx="488.2" cy="722.5" r="3.05"/><circle cx="488.9" cy="760.6" r="3.05"/><circle cx="494.8" cy="744.1" r="3.05"/><circle cx="488.5" cy="728.0" r="3.05"/><circle cx="494.0" cy="754.9" r="3.05"/><circle cx="487.4" cy="755.1" r="3.05"/><circle cx="485.2" cy="749.7" r="3.05"/><circle cx="492.7" cy="727.9" r="3.05"/>
</g>
<rect x="547.20" y="696.30" width="37.70" height="86.10" fill="#bcd6e9" stroke="#1f1f1f" stroke-width="1"/>
<rect x="584.90" y="763.30" width="37.60" height="19.10" fill="#fdd9b7" stroke="#1f1f1f" stroke-width="1"/>
<rect x="622.50" y="757.10" width="38.00" height="25.30" fill="#c0e2c0" stroke="#1f1f1f" stroke-width="1"/>
<line x1="547.70" y1="750.30" x2="584.30" y2="750.30" stroke="#7a7774" stroke-width="1.0" stroke-dasharray="5.8 3.1"/>
<line x1="554.85" y1="687.30" x2="577.25" y2="687.30" stroke="#333" stroke-width="1.0"/>
<line x1="554.85" y1="705.50" x2="577.25" y2="705.50" stroke="#333" stroke-width="1.0"/>
<line x1="566.05" y1="687.30" x2="566.05" y2="705.50" stroke="#333" stroke-width="1.0"/>
<line x1="592.50" y1="758.20" x2="614.90" y2="758.20" stroke="#333" stroke-width="1.0"/>
<line x1="592.50" y1="767.40" x2="614.90" y2="767.40" stroke="#333" stroke-width="1.0"/>
<line x1="603.70" y1="758.20" x2="603.70" y2="767.40" stroke="#333" stroke-width="1.0"/>
<line x1="630.30" y1="748.20" x2="652.70" y2="748.20" stroke="#333" stroke-width="1.0"/>
<line x1="630.30" y1="764.40" x2="652.70" y2="764.40" stroke="#333" stroke-width="1.0"/>
<line x1="641.50" y1="748.20" x2="641.50" y2="764.40" stroke="#333" stroke-width="1.0"/>
<g fill="#1f77b4" fill-opacity="0.72">
<circle cx="566.3" cy="656.4" r="3.05"/><circle cx="565.7" cy="662.1" r="3.05"/><circle cx="562.8" cy="667.8" r="3.05"/><circle cx="561.3" cy="673.3" r="3.05"/><circle cx="564.6" cy="673.3" r="3.05"/><circle cx="561.7" cy="679.0" r="3.05"/><circle cx="559.1" cy="684.4" r="3.05"/><circle cx="562.4" cy="684.4" r="3.05"/><circle cx="567.2" cy="684.4" r="3.05"/><circle cx="558.4" cy="689.9" r="3.05"/><circle cx="567.8" cy="689.9" r="3.05"/><circle cx="558.4" cy="700.2" r="3.05"/><circle cx="561.7" cy="700.2" r="3.05"/><circle cx="559.3" cy="711.2" r="3.05"/><circle cx="561.7" cy="716.6" r="3.05"/><circle cx="560.6" cy="722.3" r="3.05"/><circle cx="565.7" cy="722.3" r="3.05"/><circle cx="565.7" cy="727.8" r="3.05"/><circle cx="561.3" cy="733.3" r="3.05"/><circle cx="563.5" cy="749.5" r="3.05"/><circle cx="558.9" cy="755.0" r="3.05"/>
</g>
<g fill="#ff7f0e" fill-opacity="0.72">
<circle cx="608.1" cy="738.5" r="3.05"/><circle cx="601.3" cy="744.0" r="3.05"/><circle cx="606.2" cy="744.0" r="3.05"/><circle cx="601.3" cy="749.5" r="3.05"/><circle cx="607.3" cy="749.5" r="3.05"/><circle cx="599.6" cy="755.0" r="3.05"/><circle cx="602.9" cy="755.0" r="3.05"/><circle cx="605.5" cy="755.0" r="3.05"/><circle cx="600.0" cy="760.6" r="3.05"/><circle cx="604.6" cy="760.6" r="3.05"/><circle cx="606.8" cy="760.6" r="3.05"/><circle cx="600.7" cy="766.3" r="3.05"/><circle cx="604.6" cy="766.3" r="3.05"/><circle cx="600.0" cy="771.8" r="3.05"/><circle cx="604.6" cy="771.8" r="3.05"/><circle cx="607.3" cy="771.8" r="3.05"/><circle cx="600.0" cy="777.3" r="3.05"/><circle cx="603.3" cy="777.3" r="3.05"/><circle cx="606.2" cy="777.3" r="3.05"/><circle cx="608.4" cy="777.3" r="3.05"/><circle cx="602.4" cy="782.8" r="3.05"/><circle cx="606.2" cy="782.8" r="3.05"/>
</g>
<g fill="#2ca02c" fill-opacity="0.72">
<circle cx="645.1" cy="694.7" r="3.05"/><circle cx="647.3" cy="700.2" r="3.05"/><circle cx="640.8" cy="733.3" r="3.05"/><circle cx="647.8" cy="733.3" r="3.05"/><circle cx="650.4" cy="733.3" r="3.05"/><circle cx="645.6" cy="738.5" r="3.05"/><circle cx="645.1" cy="744.0" r="3.05"/><circle cx="643.4" cy="749.5" r="3.05"/><circle cx="645.6" cy="755.0" r="3.05"/><circle cx="650.0" cy="755.0" r="3.05"/><circle cx="643.4" cy="760.6" r="3.05"/><circle cx="648.4" cy="760.6" r="3.05"/><circle cx="641.9" cy="766.3" r="3.05"/><circle cx="644.5" cy="766.3" r="3.05"/><circle cx="648.9" cy="766.3" r="3.05"/><circle cx="642.3" cy="771.8" r="3.05"/><circle cx="645.6" cy="771.8" r="3.05"/><circle cx="640.8" cy="777.3" r="3.05"/><circle cx="643.8" cy="777.3" r="3.05"/><circle cx="646.7" cy="777.3" r="3.05"/><circle cx="649.3" cy="777.3" r="3.05"/><circle cx="645.6" cy="782.8" r="3.05"/>
</g>
<line x1="60.50" y1="645.00" x2="60.50" y2="795.90" stroke="#666" stroke-width="1.1"/>
<line x1="60.00" y1="795.40" x2="681.70" y2="795.40" stroke="#666" stroke-width="1"/>
<line x1="54.10" y1="782.40" x2="60.50" y2="782.40" stroke="#666" stroke-width="1"/>
<text x="49.9" y="787.00" font-size="11.6" text-anchor="end" fill="#333">0</text>
<line x1="54.10" y1="716.95" x2="60.50" y2="716.95" stroke="#666" stroke-width="1"/>
<text x="49.9" y="721.55" font-size="11.6" text-anchor="end" fill="#333">0.5</text>
<line x1="54.10" y1="651.50" x2="60.50" y2="651.50" stroke="#666" stroke-width="1"/>
<text x="49.9" y="656.10" font-size="11.6" text-anchor="end" fill="#333">1.0</text>
<text transform="translate(24.4 720) rotate(-90)" font-size="13" text-anchor="middle" fill="#111" letter-spacing="0.12">Proportion</text>
<line x1="137.90" y1="795.40" x2="137.90" y2="801.00" stroke="#666" stroke-width="1"/>
<line x1="293.20" y1="795.40" x2="293.20" y2="801.00" stroke="#666" stroke-width="1"/>
<line x1="448.20" y1="795.40" x2="448.20" y2="801.00" stroke="#666" stroke-width="1"/>
<line x1="603.80" y1="795.40" x2="603.80" y2="801.00" stroke="#666" stroke-width="1"/>
<text x="112.40" y="816.70" font-size="12.7" fill="#111" textLength="50.60" lengthAdjust="spacing">ChatGPT</text>
<text x="274.25" y="816.70" font-size="12.7" fill="#111" textLength="40.00" lengthAdjust="spacing">Human</text>
<text x="423.75" y="816.70" font-size="12.7" fill="#111" textLength="50.50" lengthAdjust="spacing">ChatGPT</text>
<text x="583.75" y="816.70" font-size="12.7" fill="#111" textLength="40.50" lengthAdjust="spacing">Human</text>
<line x1="100.00" y1="650.50" x2="142.00" y2="650.50" stroke="#444" stroke-width="1.2"/>
<text x="120.7" y="650.9" font-size="17" text-anchor="middle" fill="#111" letter-spacing="0.4">***</text>
<line x1="255.00" y1="650.50" x2="296.80" y2="650.50" stroke="#444" stroke-width="1.2"/>
<text x="275.4" y="649.2" font-size="17" text-anchor="middle" fill="#111" letter-spacing="0.4">***</text>
<line x1="409.20" y1="651.40" x2="451.00" y2="651.40" stroke="#444" stroke-width="1.2"/>
<text x="430.2" y="650.7" font-size="17" text-anchor="middle" fill="#111" letter-spacing="0.4">***</text>
<line x1="563.80" y1="651.00" x2="605.60" y2="651.00" stroke="#444" stroke-width="1.2"/>
<text x="584.8" y="650.6" font-size="17" text-anchor="middle" fill="#111" letter-spacing="0.4">***</text>
<rect x="237.50" y="830.50" width="10.00" height="9.40" fill="#bcd6e9" stroke="#5a5a5a" stroke-width="1.1"/>
<text x="254.25" y="839.85" font-size="12.7" fill="#111" textLength="66.50" lengthAdjust="spacing">Constituent</text>
<rect x="346.50" y="830.50" width="10.00" height="9.40" fill="#fdd9b7" stroke="#5a5a5a" stroke-width="1.1"/>
<text x="363.00" y="839.85" font-size="12.7" fill="#111" textLength="92.50" lengthAdjust="spacing">Non-constituent</text>
<rect x="479.50" y="830.50" width="10.00" height="9.40" fill="#c0e2c0" stroke="#5a5a5a" stroke-width="1.1"/>
<text x="494.50" y="839.85" font-size="12.7" fill="#111" textLength="32.50" lengthAdjust="spacing">Other</text>
</svg>
</body></html>
